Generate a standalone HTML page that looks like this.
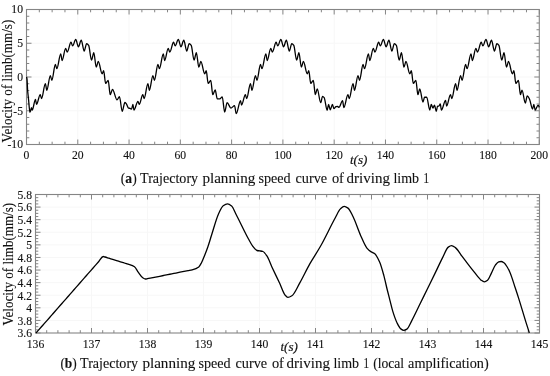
<!DOCTYPE html>
<html><head><meta charset="utf-8"><style>
html,body{margin:0;padding:0;background:#fff;}
body{width:550px;height:376px;overflow:hidden;position:relative;}
svg{position:absolute;left:0;top:0;}
svg text{font-family:'Liberation Serif','Times New Roman',serif;font-size:12.4px;fill:#111;stroke:#111;stroke-width:0.12px;}
svg text.yl{font-size:14px;}
svg text.xl{font-size:13px;stroke-width:0.2px;}
svg text.cap{font-size:14px;stroke-width:0.1px;}
</style></head><body>
<svg width="550" height="376" viewBox="0 0 550 376">
<line x1="77.78" y1="9.50" x2="77.78" y2="144.50" stroke="#f7f7f7" stroke-width="1"/>
<line x1="129.06" y1="9.50" x2="129.06" y2="144.50" stroke="#f7f7f7" stroke-width="1"/>
<line x1="180.34" y1="9.50" x2="180.34" y2="144.50" stroke="#f7f7f7" stroke-width="1"/>
<line x1="231.62" y1="9.50" x2="231.62" y2="144.50" stroke="#f7f7f7" stroke-width="1"/>
<line x1="282.90" y1="9.50" x2="282.90" y2="144.50" stroke="#f7f7f7" stroke-width="1"/>
<line x1="334.18" y1="9.50" x2="334.18" y2="144.50" stroke="#f7f7f7" stroke-width="1"/>
<line x1="385.46" y1="9.50" x2="385.46" y2="144.50" stroke="#f7f7f7" stroke-width="1"/>
<line x1="436.74" y1="9.50" x2="436.74" y2="144.50" stroke="#f7f7f7" stroke-width="1"/>
<line x1="488.02" y1="9.50" x2="488.02" y2="144.50" stroke="#f7f7f7" stroke-width="1"/>
<line x1="26.50" y1="110.75" x2="539.30" y2="110.75" stroke="#f7f7f7" stroke-width="1"/>
<line x1="26.50" y1="77.00" x2="539.30" y2="77.00" stroke="#f7f7f7" stroke-width="1"/>
<line x1="26.50" y1="43.25" x2="539.30" y2="43.25" stroke="#f7f7f7" stroke-width="1"/>
<line x1="26.50" y1="144.50" x2="26.50" y2="139.50" stroke="#858585" stroke-width="1"/>
<line x1="26.50" y1="9.50" x2="26.50" y2="14.50" stroke="#858585" stroke-width="1"/>
<line x1="39.32" y1="144.50" x2="39.32" y2="141.70" stroke="#858585" stroke-width="1"/>
<line x1="39.32" y1="9.50" x2="39.32" y2="12.30" stroke="#858585" stroke-width="1"/>
<line x1="52.14" y1="144.50" x2="52.14" y2="141.70" stroke="#858585" stroke-width="1"/>
<line x1="52.14" y1="9.50" x2="52.14" y2="12.30" stroke="#858585" stroke-width="1"/>
<line x1="64.96" y1="144.50" x2="64.96" y2="141.70" stroke="#858585" stroke-width="1"/>
<line x1="64.96" y1="9.50" x2="64.96" y2="12.30" stroke="#858585" stroke-width="1"/>
<line x1="77.78" y1="144.50" x2="77.78" y2="139.50" stroke="#858585" stroke-width="1"/>
<line x1="77.78" y1="9.50" x2="77.78" y2="14.50" stroke="#858585" stroke-width="1"/>
<line x1="90.60" y1="144.50" x2="90.60" y2="141.70" stroke="#858585" stroke-width="1"/>
<line x1="90.60" y1="9.50" x2="90.60" y2="12.30" stroke="#858585" stroke-width="1"/>
<line x1="103.42" y1="144.50" x2="103.42" y2="141.70" stroke="#858585" stroke-width="1"/>
<line x1="103.42" y1="9.50" x2="103.42" y2="12.30" stroke="#858585" stroke-width="1"/>
<line x1="116.24" y1="144.50" x2="116.24" y2="141.70" stroke="#858585" stroke-width="1"/>
<line x1="116.24" y1="9.50" x2="116.24" y2="12.30" stroke="#858585" stroke-width="1"/>
<line x1="129.06" y1="144.50" x2="129.06" y2="139.50" stroke="#858585" stroke-width="1"/>
<line x1="129.06" y1="9.50" x2="129.06" y2="14.50" stroke="#858585" stroke-width="1"/>
<line x1="141.88" y1="144.50" x2="141.88" y2="141.70" stroke="#858585" stroke-width="1"/>
<line x1="141.88" y1="9.50" x2="141.88" y2="12.30" stroke="#858585" stroke-width="1"/>
<line x1="154.70" y1="144.50" x2="154.70" y2="141.70" stroke="#858585" stroke-width="1"/>
<line x1="154.70" y1="9.50" x2="154.70" y2="12.30" stroke="#858585" stroke-width="1"/>
<line x1="167.52" y1="144.50" x2="167.52" y2="141.70" stroke="#858585" stroke-width="1"/>
<line x1="167.52" y1="9.50" x2="167.52" y2="12.30" stroke="#858585" stroke-width="1"/>
<line x1="180.34" y1="144.50" x2="180.34" y2="139.50" stroke="#858585" stroke-width="1"/>
<line x1="180.34" y1="9.50" x2="180.34" y2="14.50" stroke="#858585" stroke-width="1"/>
<line x1="193.16" y1="144.50" x2="193.16" y2="141.70" stroke="#858585" stroke-width="1"/>
<line x1="193.16" y1="9.50" x2="193.16" y2="12.30" stroke="#858585" stroke-width="1"/>
<line x1="205.98" y1="144.50" x2="205.98" y2="141.70" stroke="#858585" stroke-width="1"/>
<line x1="205.98" y1="9.50" x2="205.98" y2="12.30" stroke="#858585" stroke-width="1"/>
<line x1="218.80" y1="144.50" x2="218.80" y2="141.70" stroke="#858585" stroke-width="1"/>
<line x1="218.80" y1="9.50" x2="218.80" y2="12.30" stroke="#858585" stroke-width="1"/>
<line x1="231.62" y1="144.50" x2="231.62" y2="139.50" stroke="#858585" stroke-width="1"/>
<line x1="231.62" y1="9.50" x2="231.62" y2="14.50" stroke="#858585" stroke-width="1"/>
<line x1="244.44" y1="144.50" x2="244.44" y2="141.70" stroke="#858585" stroke-width="1"/>
<line x1="244.44" y1="9.50" x2="244.44" y2="12.30" stroke="#858585" stroke-width="1"/>
<line x1="257.26" y1="144.50" x2="257.26" y2="141.70" stroke="#858585" stroke-width="1"/>
<line x1="257.26" y1="9.50" x2="257.26" y2="12.30" stroke="#858585" stroke-width="1"/>
<line x1="270.08" y1="144.50" x2="270.08" y2="141.70" stroke="#858585" stroke-width="1"/>
<line x1="270.08" y1="9.50" x2="270.08" y2="12.30" stroke="#858585" stroke-width="1"/>
<line x1="282.90" y1="144.50" x2="282.90" y2="139.50" stroke="#858585" stroke-width="1"/>
<line x1="282.90" y1="9.50" x2="282.90" y2="14.50" stroke="#858585" stroke-width="1"/>
<line x1="295.72" y1="144.50" x2="295.72" y2="141.70" stroke="#858585" stroke-width="1"/>
<line x1="295.72" y1="9.50" x2="295.72" y2="12.30" stroke="#858585" stroke-width="1"/>
<line x1="308.54" y1="144.50" x2="308.54" y2="141.70" stroke="#858585" stroke-width="1"/>
<line x1="308.54" y1="9.50" x2="308.54" y2="12.30" stroke="#858585" stroke-width="1"/>
<line x1="321.36" y1="144.50" x2="321.36" y2="141.70" stroke="#858585" stroke-width="1"/>
<line x1="321.36" y1="9.50" x2="321.36" y2="12.30" stroke="#858585" stroke-width="1"/>
<line x1="334.18" y1="144.50" x2="334.18" y2="139.50" stroke="#858585" stroke-width="1"/>
<line x1="334.18" y1="9.50" x2="334.18" y2="14.50" stroke="#858585" stroke-width="1"/>
<line x1="347.00" y1="144.50" x2="347.00" y2="141.70" stroke="#858585" stroke-width="1"/>
<line x1="347.00" y1="9.50" x2="347.00" y2="12.30" stroke="#858585" stroke-width="1"/>
<line x1="359.82" y1="144.50" x2="359.82" y2="141.70" stroke="#858585" stroke-width="1"/>
<line x1="359.82" y1="9.50" x2="359.82" y2="12.30" stroke="#858585" stroke-width="1"/>
<line x1="372.64" y1="144.50" x2="372.64" y2="141.70" stroke="#858585" stroke-width="1"/>
<line x1="372.64" y1="9.50" x2="372.64" y2="12.30" stroke="#858585" stroke-width="1"/>
<line x1="385.46" y1="144.50" x2="385.46" y2="139.50" stroke="#858585" stroke-width="1"/>
<line x1="385.46" y1="9.50" x2="385.46" y2="14.50" stroke="#858585" stroke-width="1"/>
<line x1="398.28" y1="144.50" x2="398.28" y2="141.70" stroke="#858585" stroke-width="1"/>
<line x1="398.28" y1="9.50" x2="398.28" y2="12.30" stroke="#858585" stroke-width="1"/>
<line x1="411.10" y1="144.50" x2="411.10" y2="141.70" stroke="#858585" stroke-width="1"/>
<line x1="411.10" y1="9.50" x2="411.10" y2="12.30" stroke="#858585" stroke-width="1"/>
<line x1="423.92" y1="144.50" x2="423.92" y2="141.70" stroke="#858585" stroke-width="1"/>
<line x1="423.92" y1="9.50" x2="423.92" y2="12.30" stroke="#858585" stroke-width="1"/>
<line x1="436.74" y1="144.50" x2="436.74" y2="139.50" stroke="#858585" stroke-width="1"/>
<line x1="436.74" y1="9.50" x2="436.74" y2="14.50" stroke="#858585" stroke-width="1"/>
<line x1="449.56" y1="144.50" x2="449.56" y2="141.70" stroke="#858585" stroke-width="1"/>
<line x1="449.56" y1="9.50" x2="449.56" y2="12.30" stroke="#858585" stroke-width="1"/>
<line x1="462.38" y1="144.50" x2="462.38" y2="141.70" stroke="#858585" stroke-width="1"/>
<line x1="462.38" y1="9.50" x2="462.38" y2="12.30" stroke="#858585" stroke-width="1"/>
<line x1="475.20" y1="144.50" x2="475.20" y2="141.70" stroke="#858585" stroke-width="1"/>
<line x1="475.20" y1="9.50" x2="475.20" y2="12.30" stroke="#858585" stroke-width="1"/>
<line x1="488.02" y1="144.50" x2="488.02" y2="139.50" stroke="#858585" stroke-width="1"/>
<line x1="488.02" y1="9.50" x2="488.02" y2="14.50" stroke="#858585" stroke-width="1"/>
<line x1="500.84" y1="144.50" x2="500.84" y2="141.70" stroke="#858585" stroke-width="1"/>
<line x1="500.84" y1="9.50" x2="500.84" y2="12.30" stroke="#858585" stroke-width="1"/>
<line x1="513.66" y1="144.50" x2="513.66" y2="141.70" stroke="#858585" stroke-width="1"/>
<line x1="513.66" y1="9.50" x2="513.66" y2="12.30" stroke="#858585" stroke-width="1"/>
<line x1="526.48" y1="144.50" x2="526.48" y2="141.70" stroke="#858585" stroke-width="1"/>
<line x1="526.48" y1="9.50" x2="526.48" y2="12.30" stroke="#858585" stroke-width="1"/>
<line x1="539.30" y1="144.50" x2="539.30" y2="139.50" stroke="#858585" stroke-width="1"/>
<line x1="539.30" y1="9.50" x2="539.30" y2="14.50" stroke="#858585" stroke-width="1"/>
<line x1="26.50" y1="144.50" x2="31.50" y2="144.50" stroke="#858585" stroke-width="1"/>
<line x1="539.30" y1="144.50" x2="534.30" y2="144.50" stroke="#858585" stroke-width="1"/>
<line x1="26.50" y1="137.75" x2="29.30" y2="137.75" stroke="#858585" stroke-width="1"/>
<line x1="539.30" y1="137.75" x2="536.50" y2="137.75" stroke="#858585" stroke-width="1"/>
<line x1="26.50" y1="131.00" x2="29.30" y2="131.00" stroke="#858585" stroke-width="1"/>
<line x1="539.30" y1="131.00" x2="536.50" y2="131.00" stroke="#858585" stroke-width="1"/>
<line x1="26.50" y1="124.25" x2="29.30" y2="124.25" stroke="#858585" stroke-width="1"/>
<line x1="539.30" y1="124.25" x2="536.50" y2="124.25" stroke="#858585" stroke-width="1"/>
<line x1="26.50" y1="117.50" x2="29.30" y2="117.50" stroke="#858585" stroke-width="1"/>
<line x1="539.30" y1="117.50" x2="536.50" y2="117.50" stroke="#858585" stroke-width="1"/>
<line x1="26.50" y1="110.75" x2="31.50" y2="110.75" stroke="#858585" stroke-width="1"/>
<line x1="539.30" y1="110.75" x2="534.30" y2="110.75" stroke="#858585" stroke-width="1"/>
<line x1="26.50" y1="104.00" x2="29.30" y2="104.00" stroke="#858585" stroke-width="1"/>
<line x1="539.30" y1="104.00" x2="536.50" y2="104.00" stroke="#858585" stroke-width="1"/>
<line x1="26.50" y1="97.25" x2="29.30" y2="97.25" stroke="#858585" stroke-width="1"/>
<line x1="539.30" y1="97.25" x2="536.50" y2="97.25" stroke="#858585" stroke-width="1"/>
<line x1="26.50" y1="90.50" x2="29.30" y2="90.50" stroke="#858585" stroke-width="1"/>
<line x1="539.30" y1="90.50" x2="536.50" y2="90.50" stroke="#858585" stroke-width="1"/>
<line x1="26.50" y1="83.75" x2="29.30" y2="83.75" stroke="#858585" stroke-width="1"/>
<line x1="539.30" y1="83.75" x2="536.50" y2="83.75" stroke="#858585" stroke-width="1"/>
<line x1="26.50" y1="77.00" x2="31.50" y2="77.00" stroke="#858585" stroke-width="1"/>
<line x1="539.30" y1="77.00" x2="534.30" y2="77.00" stroke="#858585" stroke-width="1"/>
<line x1="26.50" y1="70.25" x2="29.30" y2="70.25" stroke="#858585" stroke-width="1"/>
<line x1="539.30" y1="70.25" x2="536.50" y2="70.25" stroke="#858585" stroke-width="1"/>
<line x1="26.50" y1="63.50" x2="29.30" y2="63.50" stroke="#858585" stroke-width="1"/>
<line x1="539.30" y1="63.50" x2="536.50" y2="63.50" stroke="#858585" stroke-width="1"/>
<line x1="26.50" y1="56.75" x2="29.30" y2="56.75" stroke="#858585" stroke-width="1"/>
<line x1="539.30" y1="56.75" x2="536.50" y2="56.75" stroke="#858585" stroke-width="1"/>
<line x1="26.50" y1="50.00" x2="29.30" y2="50.00" stroke="#858585" stroke-width="1"/>
<line x1="539.30" y1="50.00" x2="536.50" y2="50.00" stroke="#858585" stroke-width="1"/>
<line x1="26.50" y1="43.25" x2="31.50" y2="43.25" stroke="#858585" stroke-width="1"/>
<line x1="539.30" y1="43.25" x2="534.30" y2="43.25" stroke="#858585" stroke-width="1"/>
<line x1="26.50" y1="36.50" x2="29.30" y2="36.50" stroke="#858585" stroke-width="1"/>
<line x1="539.30" y1="36.50" x2="536.50" y2="36.50" stroke="#858585" stroke-width="1"/>
<line x1="26.50" y1="29.75" x2="29.30" y2="29.75" stroke="#858585" stroke-width="1"/>
<line x1="539.30" y1="29.75" x2="536.50" y2="29.75" stroke="#858585" stroke-width="1"/>
<line x1="26.50" y1="23.00" x2="29.30" y2="23.00" stroke="#858585" stroke-width="1"/>
<line x1="539.30" y1="23.00" x2="536.50" y2="23.00" stroke="#858585" stroke-width="1"/>
<line x1="26.50" y1="16.25" x2="29.30" y2="16.25" stroke="#858585" stroke-width="1"/>
<line x1="539.30" y1="16.25" x2="536.50" y2="16.25" stroke="#858585" stroke-width="1"/>
<line x1="26.50" y1="9.50" x2="31.50" y2="9.50" stroke="#858585" stroke-width="1"/>
<line x1="539.30" y1="9.50" x2="534.30" y2="9.50" stroke="#858585" stroke-width="1"/>
<rect x="26.5" y="9.5" width="512.80" height="135.00" fill="none" stroke="#858585" stroke-width="1.1"/>
<path d="M26.50,77.00 C26.67,77.67 26.84,77.93 27.01,79.03 C27.21,80.29 27.41,87.48 27.60,90.09 C27.94,94.52 28.27,96.72 28.60,99.95 C29.04,104.17 29.47,112.37 29.91,112.37 C30.44,112.37 30.97,107.71 31.50,107.71 C31.73,107.71 31.96,110.08 32.19,110.08 C33.29,110.08 34.40,99.41 35.50,99.41 C35.83,99.41 36.17,104.41 36.50,104.41 C37.75,104.41 39.00,94.69 40.24,94.69 C40.68,94.69 41.11,98.53 41.55,98.53 C42.82,98.53 44.08,83.61 45.35,83.61 C45.84,83.61 46.34,90.30 46.83,90.30 C47.99,90.30 49.16,75.58 50.32,75.58 C50.82,75.58 51.33,80.31 51.83,80.31 C53.02,80.31 54.21,64.51 55.40,64.51 C55.87,64.51 56.35,68.70 56.83,68.70 C58.13,68.70 59.43,53.91 60.73,53.91 C61.20,53.91 61.67,60.53 62.14,60.53 C63.29,60.53 64.45,48.38 65.60,48.38 C66.16,48.38 66.71,52.03 67.27,52.03 C68.51,52.03 69.75,42.24 70.99,42.24 C71.54,42.24 72.10,45.95 72.65,45.95 C73.68,45.95 74.70,39.33 75.73,39.33 C76.63,39.33 77.52,46.76 78.42,46.76 C79.36,46.76 80.30,40.15 81.24,40.15 C82.22,40.15 83.21,51.08 84.19,51.08 C85.00,51.08 85.81,43.59 86.63,43.59 C87.31,43.59 87.99,44.41 88.68,45.41 C89.62,46.79 90.56,60.19 91.50,60.19 C92.27,60.19 93.04,52.63 93.80,52.63 C94.62,52.63 95.43,67.21 96.24,67.21 C96.92,67.21 97.61,61.47 98.29,61.47 C99.57,61.47 100.86,73.89 102.14,73.89 C102.65,73.89 103.16,70.72 103.68,70.72 C104.32,70.72 104.96,83.41 105.60,83.41 C106.47,83.41 107.34,80.38 108.21,80.38 C108.88,80.38 109.55,94.69 110.21,94.69 C110.98,94.69 111.75,89.42 112.52,89.42 C114.02,89.42 115.51,99.95 117.01,99.95 C117.82,99.95 118.63,96.58 119.44,96.58 C120.37,96.58 121.29,111.42 122.21,111.42 C123.11,111.42 124.01,102.38 124.91,102.38 C125.35,102.38 125.80,103.11 126.24,103.66 C127.01,104.62 127.78,107.76 128.55,108.05 C129.06,108.24 129.57,108.23 130.09,108.39 C130.56,108.54 131.04,109.13 131.52,109.13 C131.98,109.13 132.44,104.41 132.91,104.41 C133.25,104.41 133.59,110.08 133.93,110.08 C135.26,110.08 136.60,101.37 137.93,101.37 C138.36,101.37 138.79,104.41 139.21,104.41 C140.41,104.41 141.61,94.69 142.80,94.69 C143.24,94.69 143.67,98.53 144.11,98.53 C145.38,98.53 146.64,83.61 147.91,83.61 C148.40,83.61 148.90,90.30 149.39,90.30 C150.55,90.30 151.72,75.58 152.88,75.58 C153.38,75.58 153.89,80.31 154.39,80.31 C155.58,80.31 156.77,64.51 157.96,64.51 C158.43,64.51 158.91,68.70 159.39,68.70 C160.69,68.70 161.99,53.91 163.29,53.91 C163.76,53.91 164.23,60.53 164.70,60.53 C165.85,60.53 167.01,48.38 168.16,48.38 C168.72,48.38 169.27,52.03 169.83,52.03 C171.07,52.03 172.31,42.24 173.55,42.24 C174.10,42.24 174.66,45.95 175.21,45.95 C176.24,45.95 177.26,39.33 178.29,39.33 C179.19,39.33 180.08,46.76 180.98,46.76 C181.92,46.76 182.86,40.15 183.80,40.15 C184.78,40.15 185.77,51.08 186.75,51.08 C187.56,51.08 188.37,43.59 189.19,43.59 C189.87,43.59 190.55,44.41 191.24,45.41 C192.18,46.79 193.12,60.19 194.06,60.19 C194.83,60.19 195.60,52.63 196.37,52.63 C197.18,52.63 197.99,67.21 198.80,67.21 C199.48,67.21 200.17,61.47 200.85,61.47 C202.13,61.47 203.42,73.89 204.70,73.89 C205.21,73.89 205.72,70.72 206.24,70.72 C206.88,70.72 207.52,83.41 208.16,83.41 C209.03,83.41 209.90,80.38 210.77,80.38 C211.44,80.38 212.11,94.69 212.77,94.69 C213.59,94.69 214.40,89.89 215.21,89.89 C215.89,89.89 216.58,98.87 217.26,98.87 C218.12,98.87 218.97,98.87 219.83,98.87 C220.63,98.87 221.43,96.78 222.24,96.78 C223.04,96.78 223.84,112.03 224.65,112.03 C225.47,112.03 226.30,102.72 227.13,102.72 C228.40,102.72 229.66,108.05 230.93,108.05 C232.13,108.05 233.34,105.69 234.54,105.69 C235.11,105.69 235.67,113.72 236.24,113.72 C237.67,113.72 239.11,100.62 240.54,100.62 C240.88,100.62 241.21,105.08 241.54,105.08 C242.82,105.08 244.09,94.69 245.36,94.69 C245.80,94.69 246.23,98.53 246.67,98.53 C247.94,98.53 249.20,83.61 250.47,83.61 C250.96,83.61 251.46,90.30 251.95,90.30 C253.11,90.30 254.28,75.58 255.44,75.58 C255.94,75.58 256.45,80.31 256.95,80.31 C258.14,80.31 259.33,64.51 260.52,64.51 C260.99,64.51 261.47,68.70 261.95,68.70 C263.25,68.70 264.55,53.91 265.85,53.91 C266.32,53.91 266.79,60.53 267.26,60.53 C268.41,60.53 269.57,48.38 270.72,48.38 C271.28,48.38 271.83,52.03 272.39,52.03 C273.63,52.03 274.87,42.24 276.11,42.24 C276.66,42.24 277.22,45.95 277.77,45.95 C278.80,45.95 279.82,39.33 280.85,39.33 C281.75,39.33 282.64,46.76 283.54,46.76 C284.48,46.76 285.42,40.15 286.36,40.15 C287.34,40.15 288.33,51.08 289.31,51.08 C290.12,51.08 290.93,43.59 291.75,43.59 C292.43,43.59 293.11,44.41 293.80,45.41 C294.74,46.79 295.68,60.19 296.62,60.19 C297.39,60.19 298.16,52.63 298.92,52.63 C299.74,52.63 300.55,67.21 301.36,67.21 C302.04,67.21 302.73,61.47 303.41,61.47 C304.69,61.47 305.98,73.89 307.26,73.89 C307.77,73.89 308.28,70.72 308.80,70.72 C309.44,70.72 310.08,83.41 310.72,83.41 C311.59,83.41 312.46,80.38 313.33,80.38 C314.00,80.38 314.67,94.69 315.33,94.69 C315.98,94.69 316.62,88.81 317.26,88.81 C318.39,88.81 319.53,102.72 320.67,102.72 C321.30,102.72 321.93,96.30 322.57,96.30 C323.10,96.30 323.64,96.91 324.18,97.59 C325.17,98.83 326.16,110.41 327.15,110.41 C327.62,110.41 328.09,104.41 328.56,104.41 C329.13,104.41 329.69,109.74 330.26,109.74 C330.99,109.74 331.73,104.41 332.46,104.41 C332.95,104.41 333.44,108.72 333.92,108.72 C334.61,108.72 335.29,106.84 335.97,106.70 C336.57,106.58 337.17,106.50 337.77,106.50 C338.17,106.50 338.57,107.38 338.97,107.38 C340.17,107.38 341.37,100.62 342.56,100.62 C343.00,100.62 343.44,107.71 343.87,107.71 C345.22,107.71 346.57,94.69 347.92,94.69 C348.36,94.69 348.79,98.53 349.23,98.53 C350.50,98.53 351.76,83.61 353.03,83.61 C353.52,83.61 354.02,90.30 354.51,90.30 C355.67,90.30 356.84,75.58 358.00,75.58 C358.50,75.58 359.01,80.31 359.51,80.31 C360.70,80.31 361.89,64.51 363.08,64.51 C363.55,64.51 364.03,68.70 364.51,68.70 C365.81,68.70 367.11,53.91 368.41,53.91 C368.88,53.91 369.35,60.53 369.82,60.53 C370.97,60.53 372.13,48.38 373.28,48.38 C373.84,48.38 374.39,52.03 374.95,52.03 C376.19,52.03 377.43,42.24 378.67,42.24 C379.22,42.24 379.78,45.95 380.33,45.95 C381.36,45.95 382.38,39.33 383.41,39.33 C384.31,39.33 385.20,46.76 386.10,46.76 C387.04,46.76 387.98,40.15 388.92,40.15 C389.90,40.15 390.89,51.08 391.87,51.08 C392.68,51.08 393.49,43.59 394.31,43.59 C394.99,43.59 395.67,44.41 396.36,45.41 C397.30,46.79 398.24,60.19 399.18,60.19 C399.95,60.19 400.72,52.63 401.49,52.63 C402.30,52.63 403.11,67.21 403.92,67.21 C404.60,67.21 405.29,61.47 405.97,61.47 C407.25,61.47 408.54,73.89 409.82,73.89 C410.33,73.89 410.84,70.72 411.36,70.72 C412.00,70.72 412.64,83.41 413.28,83.41 C414.15,83.41 415.02,80.38 415.89,80.38 C416.56,80.38 417.23,94.69 417.89,94.69 C418.52,94.69 419.14,88.81 419.77,88.81 C420.83,88.81 421.90,102.11 422.97,102.11 C423.50,102.11 424.03,97.32 424.56,97.25 C425.27,97.16 425.98,97.12 426.69,97.12 C427.73,97.12 428.77,110.08 429.82,110.08 C430.29,110.08 430.76,104.41 431.23,104.41 C431.83,104.41 432.42,108.05 433.02,108.05 C433.51,108.05 434.00,105.08 434.48,105.08 C435.08,105.08 435.68,111.42 436.28,111.42 C436.71,111.42 437.13,106.09 437.56,106.09 C438.01,106.09 438.47,106.09 438.92,106.09 C439.37,106.09 439.83,104.00 440.28,104.00 C440.65,104.00 441.01,110.08 441.38,110.08 C442.78,110.08 444.18,100.42 445.59,100.42 C445.93,100.42 446.27,106.09 446.61,106.09 C447.90,106.09 449.19,94.69 450.48,94.69 C450.92,94.69 451.35,98.53 451.79,98.53 C453.06,98.53 454.32,83.61 455.59,83.61 C456.08,83.61 456.58,90.30 457.07,90.30 C458.23,90.30 459.40,75.58 460.56,75.58 C461.06,75.58 461.57,80.31 462.07,80.31 C463.26,80.31 464.45,64.51 465.64,64.51 C466.11,64.51 466.59,68.70 467.07,68.70 C468.37,68.70 469.67,53.91 470.97,53.91 C471.44,53.91 471.91,60.53 472.38,60.53 C473.53,60.53 474.69,48.38 475.84,48.38 C476.40,48.38 476.95,52.03 477.51,52.03 C478.75,52.03 479.99,42.24 481.23,42.24 C481.78,42.24 482.34,45.95 482.89,45.95 C483.92,45.95 484.94,39.33 485.97,39.33 C486.87,39.33 487.76,46.76 488.66,46.76 C489.60,46.76 490.54,40.15 491.48,40.15 C492.46,40.15 493.45,51.08 494.43,51.08 C495.24,51.08 496.05,43.59 496.87,43.59 C497.55,43.59 498.23,44.41 498.92,45.41 C499.86,46.79 500.80,60.19 501.74,60.19 C502.51,60.19 503.28,52.63 504.04,52.63 C504.86,52.63 505.67,67.21 506.48,67.21 C507.16,67.21 507.85,61.47 508.53,61.47 C509.81,61.47 511.10,73.89 512.38,73.89 C512.89,73.89 513.40,70.72 513.92,70.72 C514.56,70.72 515.20,83.41 515.84,83.41 C516.71,83.41 517.58,80.38 518.45,80.38 C519.12,80.38 519.79,94.69 520.45,94.69 C520.97,94.69 521.48,90.09 521.99,90.09 C523.11,90.09 524.23,103.12 525.35,103.12 C525.98,103.12 526.62,95.83 527.25,95.83 C528.02,95.83 528.79,97.72 529.56,99.28 C530.55,101.28 531.54,109.13 532.53,109.13 C532.96,109.13 533.39,104.41 533.81,104.41 C534.27,104.41 534.74,110.08 535.20,110.08 C536.17,110.08 537.15,105.08 538.12,105.08 C538.51,105.08 538.91,106.61 539.30,107.38" fill="none" stroke="#000" stroke-width="1.3" stroke-linejoin="round"/>
<text x="26.50" y="158.9" text-anchor="middle" textLength="5.83" lengthAdjust="spacingAndGlyphs">0</text>
<text x="77.78" y="158.9" text-anchor="middle" textLength="11.66" lengthAdjust="spacingAndGlyphs">20</text>
<text x="129.06" y="158.9" text-anchor="middle" textLength="11.66" lengthAdjust="spacingAndGlyphs">40</text>
<text x="180.34" y="158.9" text-anchor="middle" textLength="11.66" lengthAdjust="spacingAndGlyphs">60</text>
<text x="231.62" y="158.9" text-anchor="middle" textLength="11.66" lengthAdjust="spacingAndGlyphs">80</text>
<text x="282.90" y="158.9" text-anchor="middle" textLength="17.48" lengthAdjust="spacingAndGlyphs">100</text>
<text x="334.18" y="158.9" text-anchor="middle" textLength="17.48" lengthAdjust="spacingAndGlyphs">120</text>
<text x="385.46" y="158.9" text-anchor="middle" textLength="17.48" lengthAdjust="spacingAndGlyphs">140</text>
<text x="436.74" y="158.9" text-anchor="middle" textLength="17.48" lengthAdjust="spacingAndGlyphs">160</text>
<text x="488.02" y="158.9" text-anchor="middle" textLength="17.48" lengthAdjust="spacingAndGlyphs">180</text>
<text x="539.30" y="158.9" text-anchor="middle" textLength="17.48" lengthAdjust="spacingAndGlyphs">200</text>
<text x="23.0" y="148.30" text-anchor="end" textLength="15.54" lengthAdjust="spacingAndGlyphs">-10</text>
<text x="23.0" y="114.55" text-anchor="end" textLength="9.71" lengthAdjust="spacingAndGlyphs">-5</text>
<text x="23.0" y="80.80" text-anchor="end" textLength="5.83" lengthAdjust="spacingAndGlyphs">0</text>
<text x="23.0" y="47.05" text-anchor="end" textLength="5.83" lengthAdjust="spacingAndGlyphs">5</text>
<text x="23.0" y="13.30" text-anchor="end" textLength="11.66" lengthAdjust="spacingAndGlyphs">10</text>
<text x="350.0" y="163.9" font-style="italic" class="xl">t(s)</text>
<text transform="translate(11.9,142.5) rotate(-90)" class="yl" textLength="122.8" lengthAdjust="spacingAndGlyphs">Velocity of limb(mm/s)</text>
<line x1="91.50" y1="194.50" x2="91.50" y2="333.00" stroke="#f7f7f7" stroke-width="1"/>
<line x1="147.50" y1="194.50" x2="147.50" y2="333.00" stroke="#f7f7f7" stroke-width="1"/>
<line x1="203.50" y1="194.50" x2="203.50" y2="333.00" stroke="#f7f7f7" stroke-width="1"/>
<line x1="259.50" y1="194.50" x2="259.50" y2="333.00" stroke="#f7f7f7" stroke-width="1"/>
<line x1="315.50" y1="194.50" x2="315.50" y2="333.00" stroke="#f7f7f7" stroke-width="1"/>
<line x1="371.50" y1="194.50" x2="371.50" y2="333.00" stroke="#f7f7f7" stroke-width="1"/>
<line x1="427.50" y1="194.50" x2="427.50" y2="333.00" stroke="#f7f7f7" stroke-width="1"/>
<line x1="483.50" y1="194.50" x2="483.50" y2="333.00" stroke="#f7f7f7" stroke-width="1"/>
<line x1="35.50" y1="320.41" x2="539.50" y2="320.41" stroke="#f7f7f7" stroke-width="1"/>
<line x1="35.50" y1="307.82" x2="539.50" y2="307.82" stroke="#f7f7f7" stroke-width="1"/>
<line x1="35.50" y1="295.23" x2="539.50" y2="295.23" stroke="#f7f7f7" stroke-width="1"/>
<line x1="35.50" y1="282.64" x2="539.50" y2="282.64" stroke="#f7f7f7" stroke-width="1"/>
<line x1="35.50" y1="270.05" x2="539.50" y2="270.05" stroke="#f7f7f7" stroke-width="1"/>
<line x1="35.50" y1="257.45" x2="539.50" y2="257.45" stroke="#f7f7f7" stroke-width="1"/>
<line x1="35.50" y1="244.86" x2="539.50" y2="244.86" stroke="#f7f7f7" stroke-width="1"/>
<line x1="35.50" y1="232.27" x2="539.50" y2="232.27" stroke="#f7f7f7" stroke-width="1"/>
<line x1="35.50" y1="219.68" x2="539.50" y2="219.68" stroke="#f7f7f7" stroke-width="1"/>
<line x1="35.50" y1="207.09" x2="539.50" y2="207.09" stroke="#f7f7f7" stroke-width="1"/>
<line x1="35.50" y1="333.00" x2="35.50" y2="328.00" stroke="#858585" stroke-width="1"/>
<line x1="35.50" y1="194.50" x2="35.50" y2="199.50" stroke="#858585" stroke-width="1"/>
<line x1="46.70" y1="333.00" x2="46.70" y2="330.20" stroke="#858585" stroke-width="1"/>
<line x1="46.70" y1="194.50" x2="46.70" y2="197.30" stroke="#858585" stroke-width="1"/>
<line x1="57.90" y1="333.00" x2="57.90" y2="330.20" stroke="#858585" stroke-width="1"/>
<line x1="57.90" y1="194.50" x2="57.90" y2="197.30" stroke="#858585" stroke-width="1"/>
<line x1="69.10" y1="333.00" x2="69.10" y2="330.20" stroke="#858585" stroke-width="1"/>
<line x1="69.10" y1="194.50" x2="69.10" y2="197.30" stroke="#858585" stroke-width="1"/>
<line x1="80.30" y1="333.00" x2="80.30" y2="330.20" stroke="#858585" stroke-width="1"/>
<line x1="80.30" y1="194.50" x2="80.30" y2="197.30" stroke="#858585" stroke-width="1"/>
<line x1="91.50" y1="333.00" x2="91.50" y2="328.00" stroke="#858585" stroke-width="1"/>
<line x1="91.50" y1="194.50" x2="91.50" y2="199.50" stroke="#858585" stroke-width="1"/>
<line x1="102.70" y1="333.00" x2="102.70" y2="330.20" stroke="#858585" stroke-width="1"/>
<line x1="102.70" y1="194.50" x2="102.70" y2="197.30" stroke="#858585" stroke-width="1"/>
<line x1="113.90" y1="333.00" x2="113.90" y2="330.20" stroke="#858585" stroke-width="1"/>
<line x1="113.90" y1="194.50" x2="113.90" y2="197.30" stroke="#858585" stroke-width="1"/>
<line x1="125.10" y1="333.00" x2="125.10" y2="330.20" stroke="#858585" stroke-width="1"/>
<line x1="125.10" y1="194.50" x2="125.10" y2="197.30" stroke="#858585" stroke-width="1"/>
<line x1="136.30" y1="333.00" x2="136.30" y2="330.20" stroke="#858585" stroke-width="1"/>
<line x1="136.30" y1="194.50" x2="136.30" y2="197.30" stroke="#858585" stroke-width="1"/>
<line x1="147.50" y1="333.00" x2="147.50" y2="328.00" stroke="#858585" stroke-width="1"/>
<line x1="147.50" y1="194.50" x2="147.50" y2="199.50" stroke="#858585" stroke-width="1"/>
<line x1="158.70" y1="333.00" x2="158.70" y2="330.20" stroke="#858585" stroke-width="1"/>
<line x1="158.70" y1="194.50" x2="158.70" y2="197.30" stroke="#858585" stroke-width="1"/>
<line x1="169.90" y1="333.00" x2="169.90" y2="330.20" stroke="#858585" stroke-width="1"/>
<line x1="169.90" y1="194.50" x2="169.90" y2="197.30" stroke="#858585" stroke-width="1"/>
<line x1="181.10" y1="333.00" x2="181.10" y2="330.20" stroke="#858585" stroke-width="1"/>
<line x1="181.10" y1="194.50" x2="181.10" y2="197.30" stroke="#858585" stroke-width="1"/>
<line x1="192.30" y1="333.00" x2="192.30" y2="330.20" stroke="#858585" stroke-width="1"/>
<line x1="192.30" y1="194.50" x2="192.30" y2="197.30" stroke="#858585" stroke-width="1"/>
<line x1="203.50" y1="333.00" x2="203.50" y2="328.00" stroke="#858585" stroke-width="1"/>
<line x1="203.50" y1="194.50" x2="203.50" y2="199.50" stroke="#858585" stroke-width="1"/>
<line x1="214.70" y1="333.00" x2="214.70" y2="330.20" stroke="#858585" stroke-width="1"/>
<line x1="214.70" y1="194.50" x2="214.70" y2="197.30" stroke="#858585" stroke-width="1"/>
<line x1="225.90" y1="333.00" x2="225.90" y2="330.20" stroke="#858585" stroke-width="1"/>
<line x1="225.90" y1="194.50" x2="225.90" y2="197.30" stroke="#858585" stroke-width="1"/>
<line x1="237.10" y1="333.00" x2="237.10" y2="330.20" stroke="#858585" stroke-width="1"/>
<line x1="237.10" y1="194.50" x2="237.10" y2="197.30" stroke="#858585" stroke-width="1"/>
<line x1="248.30" y1="333.00" x2="248.30" y2="330.20" stroke="#858585" stroke-width="1"/>
<line x1="248.30" y1="194.50" x2="248.30" y2="197.30" stroke="#858585" stroke-width="1"/>
<line x1="259.50" y1="333.00" x2="259.50" y2="328.00" stroke="#858585" stroke-width="1"/>
<line x1="259.50" y1="194.50" x2="259.50" y2="199.50" stroke="#858585" stroke-width="1"/>
<line x1="270.70" y1="333.00" x2="270.70" y2="330.20" stroke="#858585" stroke-width="1"/>
<line x1="270.70" y1="194.50" x2="270.70" y2="197.30" stroke="#858585" stroke-width="1"/>
<line x1="281.90" y1="333.00" x2="281.90" y2="330.20" stroke="#858585" stroke-width="1"/>
<line x1="281.90" y1="194.50" x2="281.90" y2="197.30" stroke="#858585" stroke-width="1"/>
<line x1="293.10" y1="333.00" x2="293.10" y2="330.20" stroke="#858585" stroke-width="1"/>
<line x1="293.10" y1="194.50" x2="293.10" y2="197.30" stroke="#858585" stroke-width="1"/>
<line x1="304.30" y1="333.00" x2="304.30" y2="330.20" stroke="#858585" stroke-width="1"/>
<line x1="304.30" y1="194.50" x2="304.30" y2="197.30" stroke="#858585" stroke-width="1"/>
<line x1="315.50" y1="333.00" x2="315.50" y2="328.00" stroke="#858585" stroke-width="1"/>
<line x1="315.50" y1="194.50" x2="315.50" y2="199.50" stroke="#858585" stroke-width="1"/>
<line x1="326.70" y1="333.00" x2="326.70" y2="330.20" stroke="#858585" stroke-width="1"/>
<line x1="326.70" y1="194.50" x2="326.70" y2="197.30" stroke="#858585" stroke-width="1"/>
<line x1="337.90" y1="333.00" x2="337.90" y2="330.20" stroke="#858585" stroke-width="1"/>
<line x1="337.90" y1="194.50" x2="337.90" y2="197.30" stroke="#858585" stroke-width="1"/>
<line x1="349.10" y1="333.00" x2="349.10" y2="330.20" stroke="#858585" stroke-width="1"/>
<line x1="349.10" y1="194.50" x2="349.10" y2="197.30" stroke="#858585" stroke-width="1"/>
<line x1="360.30" y1="333.00" x2="360.30" y2="330.20" stroke="#858585" stroke-width="1"/>
<line x1="360.30" y1="194.50" x2="360.30" y2="197.30" stroke="#858585" stroke-width="1"/>
<line x1="371.50" y1="333.00" x2="371.50" y2="328.00" stroke="#858585" stroke-width="1"/>
<line x1="371.50" y1="194.50" x2="371.50" y2="199.50" stroke="#858585" stroke-width="1"/>
<line x1="382.70" y1="333.00" x2="382.70" y2="330.20" stroke="#858585" stroke-width="1"/>
<line x1="382.70" y1="194.50" x2="382.70" y2="197.30" stroke="#858585" stroke-width="1"/>
<line x1="393.90" y1="333.00" x2="393.90" y2="330.20" stroke="#858585" stroke-width="1"/>
<line x1="393.90" y1="194.50" x2="393.90" y2="197.30" stroke="#858585" stroke-width="1"/>
<line x1="405.10" y1="333.00" x2="405.10" y2="330.20" stroke="#858585" stroke-width="1"/>
<line x1="405.10" y1="194.50" x2="405.10" y2="197.30" stroke="#858585" stroke-width="1"/>
<line x1="416.30" y1="333.00" x2="416.30" y2="330.20" stroke="#858585" stroke-width="1"/>
<line x1="416.30" y1="194.50" x2="416.30" y2="197.30" stroke="#858585" stroke-width="1"/>
<line x1="427.50" y1="333.00" x2="427.50" y2="328.00" stroke="#858585" stroke-width="1"/>
<line x1="427.50" y1="194.50" x2="427.50" y2="199.50" stroke="#858585" stroke-width="1"/>
<line x1="438.70" y1="333.00" x2="438.70" y2="330.20" stroke="#858585" stroke-width="1"/>
<line x1="438.70" y1="194.50" x2="438.70" y2="197.30" stroke="#858585" stroke-width="1"/>
<line x1="449.90" y1="333.00" x2="449.90" y2="330.20" stroke="#858585" stroke-width="1"/>
<line x1="449.90" y1="194.50" x2="449.90" y2="197.30" stroke="#858585" stroke-width="1"/>
<line x1="461.10" y1="333.00" x2="461.10" y2="330.20" stroke="#858585" stroke-width="1"/>
<line x1="461.10" y1="194.50" x2="461.10" y2="197.30" stroke="#858585" stroke-width="1"/>
<line x1="472.30" y1="333.00" x2="472.30" y2="330.20" stroke="#858585" stroke-width="1"/>
<line x1="472.30" y1="194.50" x2="472.30" y2="197.30" stroke="#858585" stroke-width="1"/>
<line x1="483.50" y1="333.00" x2="483.50" y2="328.00" stroke="#858585" stroke-width="1"/>
<line x1="483.50" y1="194.50" x2="483.50" y2="199.50" stroke="#858585" stroke-width="1"/>
<line x1="494.70" y1="333.00" x2="494.70" y2="330.20" stroke="#858585" stroke-width="1"/>
<line x1="494.70" y1="194.50" x2="494.70" y2="197.30" stroke="#858585" stroke-width="1"/>
<line x1="505.90" y1="333.00" x2="505.90" y2="330.20" stroke="#858585" stroke-width="1"/>
<line x1="505.90" y1="194.50" x2="505.90" y2="197.30" stroke="#858585" stroke-width="1"/>
<line x1="517.10" y1="333.00" x2="517.10" y2="330.20" stroke="#858585" stroke-width="1"/>
<line x1="517.10" y1="194.50" x2="517.10" y2="197.30" stroke="#858585" stroke-width="1"/>
<line x1="528.30" y1="333.00" x2="528.30" y2="330.20" stroke="#858585" stroke-width="1"/>
<line x1="528.30" y1="194.50" x2="528.30" y2="197.30" stroke="#858585" stroke-width="1"/>
<line x1="539.50" y1="333.00" x2="539.50" y2="328.00" stroke="#858585" stroke-width="1"/>
<line x1="539.50" y1="194.50" x2="539.50" y2="199.50" stroke="#858585" stroke-width="1"/>
<line x1="35.50" y1="333.00" x2="40.50" y2="333.00" stroke="#858585" stroke-width="1"/>
<line x1="539.50" y1="333.00" x2="534.50" y2="333.00" stroke="#858585" stroke-width="1"/>
<line x1="35.50" y1="329.85" x2="38.30" y2="329.85" stroke="#858585" stroke-width="1"/>
<line x1="539.50" y1="329.85" x2="536.70" y2="329.85" stroke="#858585" stroke-width="1"/>
<line x1="35.50" y1="326.70" x2="38.30" y2="326.70" stroke="#858585" stroke-width="1"/>
<line x1="539.50" y1="326.70" x2="536.70" y2="326.70" stroke="#858585" stroke-width="1"/>
<line x1="35.50" y1="323.56" x2="38.30" y2="323.56" stroke="#858585" stroke-width="1"/>
<line x1="539.50" y1="323.56" x2="536.70" y2="323.56" stroke="#858585" stroke-width="1"/>
<line x1="35.50" y1="320.41" x2="40.50" y2="320.41" stroke="#858585" stroke-width="1"/>
<line x1="539.50" y1="320.41" x2="534.50" y2="320.41" stroke="#858585" stroke-width="1"/>
<line x1="35.50" y1="317.26" x2="38.30" y2="317.26" stroke="#858585" stroke-width="1"/>
<line x1="539.50" y1="317.26" x2="536.70" y2="317.26" stroke="#858585" stroke-width="1"/>
<line x1="35.50" y1="314.11" x2="38.30" y2="314.11" stroke="#858585" stroke-width="1"/>
<line x1="539.50" y1="314.11" x2="536.70" y2="314.11" stroke="#858585" stroke-width="1"/>
<line x1="35.50" y1="310.97" x2="38.30" y2="310.97" stroke="#858585" stroke-width="1"/>
<line x1="539.50" y1="310.97" x2="536.70" y2="310.97" stroke="#858585" stroke-width="1"/>
<line x1="35.50" y1="307.82" x2="40.50" y2="307.82" stroke="#858585" stroke-width="1"/>
<line x1="539.50" y1="307.82" x2="534.50" y2="307.82" stroke="#858585" stroke-width="1"/>
<line x1="35.50" y1="304.67" x2="38.30" y2="304.67" stroke="#858585" stroke-width="1"/>
<line x1="539.50" y1="304.67" x2="536.70" y2="304.67" stroke="#858585" stroke-width="1"/>
<line x1="35.50" y1="301.52" x2="38.30" y2="301.52" stroke="#858585" stroke-width="1"/>
<line x1="539.50" y1="301.52" x2="536.70" y2="301.52" stroke="#858585" stroke-width="1"/>
<line x1="35.50" y1="298.38" x2="38.30" y2="298.38" stroke="#858585" stroke-width="1"/>
<line x1="539.50" y1="298.38" x2="536.70" y2="298.38" stroke="#858585" stroke-width="1"/>
<line x1="35.50" y1="295.23" x2="40.50" y2="295.23" stroke="#858585" stroke-width="1"/>
<line x1="539.50" y1="295.23" x2="534.50" y2="295.23" stroke="#858585" stroke-width="1"/>
<line x1="35.50" y1="292.08" x2="38.30" y2="292.08" stroke="#858585" stroke-width="1"/>
<line x1="539.50" y1="292.08" x2="536.70" y2="292.08" stroke="#858585" stroke-width="1"/>
<line x1="35.50" y1="288.93" x2="38.30" y2="288.93" stroke="#858585" stroke-width="1"/>
<line x1="539.50" y1="288.93" x2="536.70" y2="288.93" stroke="#858585" stroke-width="1"/>
<line x1="35.50" y1="285.78" x2="38.30" y2="285.78" stroke="#858585" stroke-width="1"/>
<line x1="539.50" y1="285.78" x2="536.70" y2="285.78" stroke="#858585" stroke-width="1"/>
<line x1="35.50" y1="282.64" x2="40.50" y2="282.64" stroke="#858585" stroke-width="1"/>
<line x1="539.50" y1="282.64" x2="534.50" y2="282.64" stroke="#858585" stroke-width="1"/>
<line x1="35.50" y1="279.49" x2="38.30" y2="279.49" stroke="#858585" stroke-width="1"/>
<line x1="539.50" y1="279.49" x2="536.70" y2="279.49" stroke="#858585" stroke-width="1"/>
<line x1="35.50" y1="276.34" x2="38.30" y2="276.34" stroke="#858585" stroke-width="1"/>
<line x1="539.50" y1="276.34" x2="536.70" y2="276.34" stroke="#858585" stroke-width="1"/>
<line x1="35.50" y1="273.19" x2="38.30" y2="273.19" stroke="#858585" stroke-width="1"/>
<line x1="539.50" y1="273.19" x2="536.70" y2="273.19" stroke="#858585" stroke-width="1"/>
<line x1="35.50" y1="270.05" x2="40.50" y2="270.05" stroke="#858585" stroke-width="1"/>
<line x1="539.50" y1="270.05" x2="534.50" y2="270.05" stroke="#858585" stroke-width="1"/>
<line x1="35.50" y1="266.90" x2="38.30" y2="266.90" stroke="#858585" stroke-width="1"/>
<line x1="539.50" y1="266.90" x2="536.70" y2="266.90" stroke="#858585" stroke-width="1"/>
<line x1="35.50" y1="263.75" x2="38.30" y2="263.75" stroke="#858585" stroke-width="1"/>
<line x1="539.50" y1="263.75" x2="536.70" y2="263.75" stroke="#858585" stroke-width="1"/>
<line x1="35.50" y1="260.60" x2="38.30" y2="260.60" stroke="#858585" stroke-width="1"/>
<line x1="539.50" y1="260.60" x2="536.70" y2="260.60" stroke="#858585" stroke-width="1"/>
<line x1="35.50" y1="257.45" x2="40.50" y2="257.45" stroke="#858585" stroke-width="1"/>
<line x1="539.50" y1="257.45" x2="534.50" y2="257.45" stroke="#858585" stroke-width="1"/>
<line x1="35.50" y1="254.31" x2="38.30" y2="254.31" stroke="#858585" stroke-width="1"/>
<line x1="539.50" y1="254.31" x2="536.70" y2="254.31" stroke="#858585" stroke-width="1"/>
<line x1="35.50" y1="251.16" x2="38.30" y2="251.16" stroke="#858585" stroke-width="1"/>
<line x1="539.50" y1="251.16" x2="536.70" y2="251.16" stroke="#858585" stroke-width="1"/>
<line x1="35.50" y1="248.01" x2="38.30" y2="248.01" stroke="#858585" stroke-width="1"/>
<line x1="539.50" y1="248.01" x2="536.70" y2="248.01" stroke="#858585" stroke-width="1"/>
<line x1="35.50" y1="244.86" x2="40.50" y2="244.86" stroke="#858585" stroke-width="1"/>
<line x1="539.50" y1="244.86" x2="534.50" y2="244.86" stroke="#858585" stroke-width="1"/>
<line x1="35.50" y1="241.72" x2="38.30" y2="241.72" stroke="#858585" stroke-width="1"/>
<line x1="539.50" y1="241.72" x2="536.70" y2="241.72" stroke="#858585" stroke-width="1"/>
<line x1="35.50" y1="238.57" x2="38.30" y2="238.57" stroke="#858585" stroke-width="1"/>
<line x1="539.50" y1="238.57" x2="536.70" y2="238.57" stroke="#858585" stroke-width="1"/>
<line x1="35.50" y1="235.42" x2="38.30" y2="235.42" stroke="#858585" stroke-width="1"/>
<line x1="539.50" y1="235.42" x2="536.70" y2="235.42" stroke="#858585" stroke-width="1"/>
<line x1="35.50" y1="232.27" x2="40.50" y2="232.27" stroke="#858585" stroke-width="1"/>
<line x1="539.50" y1="232.27" x2="534.50" y2="232.27" stroke="#858585" stroke-width="1"/>
<line x1="35.50" y1="229.12" x2="38.30" y2="229.12" stroke="#858585" stroke-width="1"/>
<line x1="539.50" y1="229.12" x2="536.70" y2="229.12" stroke="#858585" stroke-width="1"/>
<line x1="35.50" y1="225.98" x2="38.30" y2="225.98" stroke="#858585" stroke-width="1"/>
<line x1="539.50" y1="225.98" x2="536.70" y2="225.98" stroke="#858585" stroke-width="1"/>
<line x1="35.50" y1="222.83" x2="38.30" y2="222.83" stroke="#858585" stroke-width="1"/>
<line x1="539.50" y1="222.83" x2="536.70" y2="222.83" stroke="#858585" stroke-width="1"/>
<line x1="35.50" y1="219.68" x2="40.50" y2="219.68" stroke="#858585" stroke-width="1"/>
<line x1="539.50" y1="219.68" x2="534.50" y2="219.68" stroke="#858585" stroke-width="1"/>
<line x1="35.50" y1="216.53" x2="38.30" y2="216.53" stroke="#858585" stroke-width="1"/>
<line x1="539.50" y1="216.53" x2="536.70" y2="216.53" stroke="#858585" stroke-width="1"/>
<line x1="35.50" y1="213.39" x2="38.30" y2="213.39" stroke="#858585" stroke-width="1"/>
<line x1="539.50" y1="213.39" x2="536.70" y2="213.39" stroke="#858585" stroke-width="1"/>
<line x1="35.50" y1="210.24" x2="38.30" y2="210.24" stroke="#858585" stroke-width="1"/>
<line x1="539.50" y1="210.24" x2="536.70" y2="210.24" stroke="#858585" stroke-width="1"/>
<line x1="35.50" y1="207.09" x2="40.50" y2="207.09" stroke="#858585" stroke-width="1"/>
<line x1="539.50" y1="207.09" x2="534.50" y2="207.09" stroke="#858585" stroke-width="1"/>
<line x1="35.50" y1="203.94" x2="38.30" y2="203.94" stroke="#858585" stroke-width="1"/>
<line x1="539.50" y1="203.94" x2="536.70" y2="203.94" stroke="#858585" stroke-width="1"/>
<line x1="35.50" y1="200.80" x2="38.30" y2="200.80" stroke="#858585" stroke-width="1"/>
<line x1="539.50" y1="200.80" x2="536.70" y2="200.80" stroke="#858585" stroke-width="1"/>
<line x1="35.50" y1="197.65" x2="38.30" y2="197.65" stroke="#858585" stroke-width="1"/>
<line x1="539.50" y1="197.65" x2="536.70" y2="197.65" stroke="#858585" stroke-width="1"/>
<line x1="35.50" y1="194.50" x2="40.50" y2="194.50" stroke="#858585" stroke-width="1"/>
<line x1="539.50" y1="194.50" x2="534.50" y2="194.50" stroke="#858585" stroke-width="1"/>
<rect x="35.5" y="194.5" width="504.00" height="138.50" fill="none" stroke="#858585" stroke-width="1.1"/>
<path d="M36.00,333.00 C36.91,331.96 37.82,330.93 38.73,329.89 C39.64,328.86 40.55,327.82 41.46,326.78 C42.37,325.75 43.28,324.71 44.19,323.68 C45.10,322.64 46.01,321.60 46.92,320.57 C47.83,319.53 48.74,318.49 49.65,317.46 C50.56,316.42 51.47,315.39 52.38,314.35 C53.28,313.31 54.19,312.28 55.10,311.24 C56.01,310.21 56.92,309.17 57.83,308.13 C58.74,307.10 59.65,306.06 60.56,305.02 C61.47,303.99 62.38,302.95 63.29,301.92 C64.20,300.88 65.11,299.84 66.02,298.81 C66.93,297.77 67.84,296.74 68.75,295.70 C69.66,294.66 70.57,293.63 71.48,292.59 C72.39,291.56 73.30,290.52 74.21,289.48 C75.12,288.45 76.03,287.41 76.94,286.38 C77.85,285.34 78.76,284.30 79.67,283.27 C80.58,282.23 81.49,281.19 82.40,280.16 C83.31,279.12 84.22,278.09 85.12,277.05 C86.03,276.01 86.94,274.98 87.85,273.94 C88.76,272.91 89.67,271.87 90.58,270.83 C91.49,269.80 92.40,268.76 93.31,267.72 C94.22,266.69 95.13,265.65 96.04,264.62 C96.95,263.58 97.86,262.54 98.77,261.51 C100.25,259.83 101.72,256.50 103.20,256.50 C103.80,256.50 104.40,256.83 105.00,257.00 C106.29,257.37 107.57,257.80 108.86,258.20 C110.14,258.60 111.43,259.00 112.71,259.40 C114.00,259.80 115.29,260.20 116.57,260.60 C117.86,261.00 119.14,261.40 120.43,261.80 C121.71,262.20 123.00,262.60 124.29,263.00 C125.57,263.40 126.86,263.75 128.14,264.20 C130.26,264.94 132.38,265.39 134.50,266.80 C135.80,267.67 137.10,270.68 138.40,272.40 C139.87,274.34 141.33,276.85 142.80,277.80 C143.67,278.36 144.53,279.00 145.40,279.00 C146.10,279.00 146.80,278.81 147.50,278.70 C148.85,278.48 150.21,278.16 151.56,277.89 C152.91,277.62 154.26,277.35 155.62,277.08 C156.97,276.81 158.32,276.54 159.68,276.27 C161.03,276.01 162.38,275.74 163.73,275.47 C165.09,275.20 166.44,274.93 167.79,274.66 C169.14,274.39 170.50,274.12 171.85,273.85 C173.20,273.58 174.56,273.31 175.91,273.04 C177.26,272.77 178.61,272.50 179.97,272.23 C181.32,271.96 182.67,271.69 184.02,271.43 C185.38,271.16 186.73,270.89 188.08,270.62 C189.44,270.35 190.79,270.17 192.14,269.81 C194.36,269.22 196.58,268.54 198.80,266.90 C199.70,266.23 200.60,264.37 201.50,262.70 C202.57,260.72 203.63,257.86 204.70,255.20 C205.77,252.54 206.83,249.77 207.90,246.70 C209.13,243.15 210.37,238.84 211.60,235.00 C213.87,227.94 216.13,219.17 218.40,214.20 C220.00,210.69 221.60,206.92 223.20,205.80 C224.63,204.80 226.07,203.90 227.50,203.90 C228.87,203.90 230.23,204.91 231.60,206.00 C233.07,207.17 234.53,211.40 236.00,214.20 C240.17,222.17 244.33,231.47 248.50,239.00 C249.83,241.41 251.17,244.07 252.50,245.80 C254.00,247.75 255.50,250.15 257.00,250.50 C257.97,250.72 258.93,250.74 259.90,250.90 C260.90,251.06 261.90,251.17 262.90,251.50 C264.23,251.94 265.57,253.97 266.90,255.90 C268.57,258.31 270.23,263.30 271.90,266.90 C274.57,272.66 277.23,278.04 279.90,283.80 C281.57,287.40 283.23,292.80 284.90,294.80 C285.90,296.00 286.90,297.40 287.90,297.40 C289.23,297.40 290.57,296.60 291.90,295.80 C294.53,294.21 297.17,287.51 299.80,282.90 C303.13,277.06 306.47,269.78 309.80,263.90 C313.27,257.79 316.73,252.91 320.20,246.80 C325.23,237.92 330.27,226.93 335.30,217.80 C337.00,214.72 338.70,210.49 340.40,208.90 C341.67,207.72 342.93,206.40 344.20,206.40 C345.47,206.40 346.73,207.23 348.00,208.10 C349.67,209.25 351.33,213.20 353.00,216.50 C355.53,221.51 358.07,229.78 360.60,235.40 C362.70,240.06 364.80,245.58 366.90,248.10 C368.33,249.82 369.77,250.98 371.20,251.90 C372.30,252.61 373.40,252.77 374.50,253.60 C376.20,254.89 377.90,258.27 379.60,262.00 C381.00,265.07 382.40,270.32 383.80,275.40 C384.97,279.64 386.13,285.29 387.30,290.00 C388.13,293.36 388.97,296.56 389.80,299.80 C390.80,303.69 391.80,308.19 392.80,311.40 C394.23,316.00 395.67,320.15 397.10,323.00 C398.33,325.46 399.57,328.03 400.80,328.90 C401.80,329.61 402.80,330.30 403.80,330.30 C404.83,330.30 405.87,329.72 406.90,329.10 C408.53,328.11 410.17,323.64 411.80,320.60 C414.23,316.07 416.67,310.75 419.10,305.80 C421.77,300.38 424.43,294.93 427.10,289.50 C429.73,284.13 432.37,278.82 435.00,273.40 C437.53,268.19 440.07,262.53 442.60,257.60 C444.50,253.90 446.40,248.45 448.30,247.10 C449.37,246.34 450.43,245.60 451.50,245.60 C452.80,245.60 454.10,246.67 455.40,247.60 C457.43,249.05 459.47,252.93 461.50,255.60 C463.53,258.27 465.57,260.98 467.60,263.60 C469.57,266.14 471.53,268.59 473.50,271.10 C474.93,272.93 476.37,274.91 477.80,276.60 C478.80,277.78 479.80,279.15 480.80,279.90 C482.00,280.79 483.20,281.90 484.40,281.90 C485.47,281.90 486.53,281.13 487.60,280.30 C488.83,279.34 490.07,275.79 491.30,273.40 C492.70,270.68 494.10,266.66 495.50,264.90 C496.57,263.56 497.63,262.19 498.70,261.90 C499.50,261.68 500.30,261.50 501.10,261.50 C502.07,261.50 503.03,262.16 504.00,262.80 C505.07,263.51 506.13,265.31 507.20,267.00 C508.27,268.69 509.33,270.87 510.40,273.40 C511.83,276.80 513.27,281.88 514.70,286.20 C516.00,290.12 517.30,294.00 518.60,298.10 C521.07,305.87 523.53,314.53 526.00,322.40 C527.07,325.80 528.13,329.15 529.20,332.40 C529.27,332.60 529.33,332.80 529.40,333.00" fill="none" stroke="#000" stroke-width="1.3" stroke-linejoin="round"/>
<text x="35.50" y="347.8" text-anchor="middle" textLength="17.48" lengthAdjust="spacingAndGlyphs">136</text>
<text x="91.50" y="347.8" text-anchor="middle" textLength="17.48" lengthAdjust="spacingAndGlyphs">137</text>
<text x="147.50" y="347.8" text-anchor="middle" textLength="17.48" lengthAdjust="spacingAndGlyphs">138</text>
<text x="203.50" y="347.8" text-anchor="middle" textLength="17.48" lengthAdjust="spacingAndGlyphs">139</text>
<text x="259.50" y="347.8" text-anchor="middle" textLength="17.48" lengthAdjust="spacingAndGlyphs">140</text>
<text x="315.50" y="347.8" text-anchor="middle" textLength="17.48" lengthAdjust="spacingAndGlyphs">141</text>
<text x="371.50" y="347.8" text-anchor="middle" textLength="17.48" lengthAdjust="spacingAndGlyphs">142</text>
<text x="427.50" y="347.8" text-anchor="middle" textLength="17.48" lengthAdjust="spacingAndGlyphs">143</text>
<text x="483.50" y="347.8" text-anchor="middle" textLength="17.48" lengthAdjust="spacingAndGlyphs">144</text>
<text x="539.50" y="347.8" text-anchor="middle" textLength="17.48" lengthAdjust="spacingAndGlyphs">145</text>
<text x="32.0" y="337.40" text-anchor="end" textLength="14.57" lengthAdjust="spacingAndGlyphs">3.6</text>
<text x="32.0" y="324.81" text-anchor="end" textLength="14.57" lengthAdjust="spacingAndGlyphs">3.8</text>
<text x="32.0" y="312.22" text-anchor="end" textLength="5.83" lengthAdjust="spacingAndGlyphs">4</text>
<text x="32.0" y="299.63" text-anchor="end" textLength="14.57" lengthAdjust="spacingAndGlyphs">4.2</text>
<text x="32.0" y="287.04" text-anchor="end" textLength="14.57" lengthAdjust="spacingAndGlyphs">4.4</text>
<text x="32.0" y="274.45" text-anchor="end" textLength="14.57" lengthAdjust="spacingAndGlyphs">4.6</text>
<text x="32.0" y="261.85" text-anchor="end" textLength="14.57" lengthAdjust="spacingAndGlyphs">4.8</text>
<text x="32.0" y="249.26" text-anchor="end" textLength="5.83" lengthAdjust="spacingAndGlyphs">5</text>
<text x="32.0" y="236.67" text-anchor="end" textLength="14.57" lengthAdjust="spacingAndGlyphs">5.2</text>
<text x="32.0" y="224.08" text-anchor="end" textLength="14.57" lengthAdjust="spacingAndGlyphs">5.4</text>
<text x="32.0" y="211.49" text-anchor="end" textLength="14.57" lengthAdjust="spacingAndGlyphs">5.6</text>
<text x="32.0" y="198.90" text-anchor="end" textLength="14.57" lengthAdjust="spacingAndGlyphs">5.8</text>
<text x="280.5" y="350.9" font-style="italic" class="xl">t(s)</text>
<text transform="translate(13.3,325.4) rotate(-90)" class="yl" textLength="122.5" lengthAdjust="spacingAndGlyphs">Velocity of limb(mm/s)</text>
<text class="cap" x="120.80" y="183.0" textLength="15.90" lengthAdjust="spacingAndGlyphs">(<tspan font-weight="bold">a</tspan>)</text>
<text class="cap" x="140.10" y="183.0" textLength="58.00" lengthAdjust="spacingAndGlyphs">Trajectory</text>
<text class="cap" x="202.40" y="183.0" textLength="52.90" lengthAdjust="spacingAndGlyphs">planning</text>
<text class="cap" x="258.50" y="183.0" textLength="32.20" lengthAdjust="spacingAndGlyphs">speed</text>
<text class="cap" x="295.50" y="183.0" textLength="31.70" lengthAdjust="spacingAndGlyphs">curve</text>
<text class="cap" x="331.90" y="183.0" textLength="12.00" lengthAdjust="spacingAndGlyphs">of</text>
<text class="cap" x="346.60" y="183.0" textLength="43.30" lengthAdjust="spacingAndGlyphs">driving</text>
<text class="cap" x="393.40" y="183.0" textLength="25.70" lengthAdjust="spacingAndGlyphs">limb</text>
<text class="cap" x="423.40" y="183.0" textLength="5.50" lengthAdjust="spacingAndGlyphs">1</text>
<text class="cap" x="60.40" y="368.4" textLength="16.40" lengthAdjust="spacingAndGlyphs">(<tspan font-weight="bold">b</tspan>)</text>
<text class="cap" x="80.10" y="368.4" textLength="58.00" lengthAdjust="spacingAndGlyphs">Trajectory</text>
<text class="cap" x="142.40" y="368.4" textLength="52.90" lengthAdjust="spacingAndGlyphs">planning</text>
<text class="cap" x="198.50" y="368.4" textLength="32.20" lengthAdjust="spacingAndGlyphs">speed</text>
<text class="cap" x="235.50" y="368.4" textLength="31.70" lengthAdjust="spacingAndGlyphs">curve</text>
<text class="cap" x="271.90" y="368.4" textLength="12.00" lengthAdjust="spacingAndGlyphs">of</text>
<text class="cap" x="286.60" y="368.4" textLength="43.30" lengthAdjust="spacingAndGlyphs">driving</text>
<text class="cap" x="333.40" y="368.4" textLength="25.70" lengthAdjust="spacingAndGlyphs">limb</text>
<text class="cap" x="363.40" y="368.4" textLength="5.50" lengthAdjust="spacingAndGlyphs">1</text>
<text class="cap" x="373.20" y="368.4" textLength="30.90" lengthAdjust="spacingAndGlyphs">(local</text>
<text class="cap" x="408.10" y="368.4" textLength="80.60" lengthAdjust="spacingAndGlyphs">amplification)</text>
</svg>
</body></html>
